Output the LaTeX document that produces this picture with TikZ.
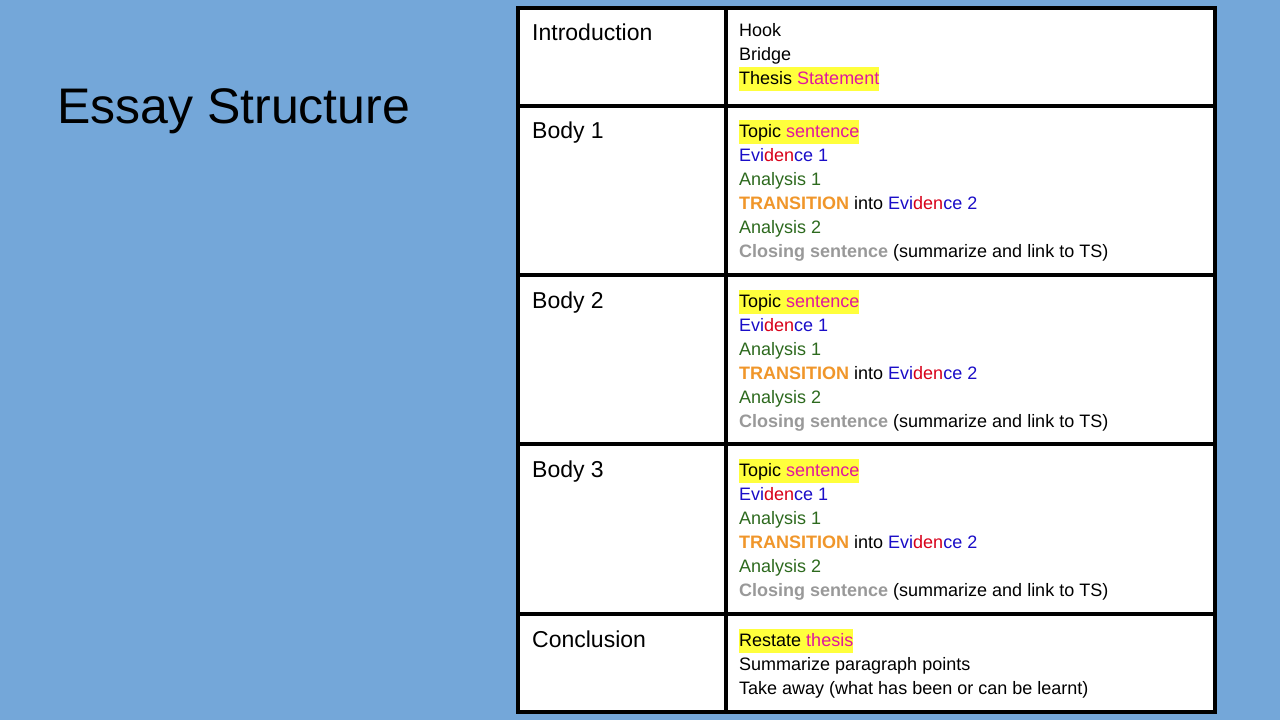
\documentclass[tikz,border=0pt]{standalone}
\usepackage{fontspec}
\setmainfont{Liberation Sans}
\definecolor{bg}{HTML}{74A7D9}
\definecolor{ev}{HTML}{1A0DC8}
\definecolor{er}{HTML}{D8001A}
\definecolor{an}{HTML}{2D6A1E}
\definecolor{tr}{HTML}{F0962A}
\definecolor{cl}{HTML}{999999}
\definecolor{mg}{HTML}{E0169E}
\definecolor{hy}{HTML}{FFFF3C}
\newcommand{\hlb}[1]{{\setlength\fboxsep{0pt}\colorbox{hy}{\strut#1}}}
\newcommand{\evid}[1]{\textcolor{ev}{Evi}\textcolor{er}{den}\textcolor{ev}{ce #1}}
\newcommand{\bodytext}{\hlb{Topic \textcolor{mg}{sentence}}\\
\evid{1}\\
\textcolor{an}{Analysis 1}\\
\textcolor{tr}{\bfseries TRANSITION} into \evid{2}\\
\textcolor{an}{Analysis 2}\\
\textcolor{cl}{\bfseries Closing sentence} (summarize and link to TS)}
\tikzset{
  cell/.style={anchor=north west,inner sep=0pt,align=left,font=\fontsize{18}{24}\selectfont},
  lab/.style={anchor=north west,inner sep=0pt,font=\fontsize{23}{28}\selectfont},
  grid/.style={line width=4pt}
}
\begin{document}
\begin{tikzpicture}[x=1pt,y=-1pt]
\fill[bg] (0,0) rectangle (1280,720);
\useasboundingbox (0,0) rectangle (1280,720);
\fill[white] (518,8) rectangle (1215,712);
\node[anchor=base west,inner sep=0pt,font=\fontsize{50}{60}\selectfont] (title) at (57,123) {Essay Structure};
\draw[grid] (518,8) rectangle (1215,712);
\draw[grid] (726,8) -- (726,712);
\foreach \y in {106,275,444,614} \draw[grid] (518,\y) -- (1215,\y);
\node[lab] (l1) at (532,24) {Introduction};
\node[lab] (l2) at (532,122) {Body 1};
\node[lab] (l3) at (532,292) {Body 2};
\node[lab] (l4) at (532,461) {Body 3};
\node[lab] (l5) at (532,631) {Conclusion};
\node[cell] (c1) at (739,23) {Hook\\Bridge\\\hlb{Thesis \textcolor{mg}{Statement}}};
\node[cell] (c2) at (739,120) {\bodytext};
\node[cell] (c3) at (739,290) {\bodytext};
\node[cell] (c4) at (739,459) {\bodytext};
\node[cell] (c5) at (739,629) {\hlb{Restate \textcolor{mg}{thesis}}\\Summarize paragraph points\\Take away (what has been or can be learnt)};
\end{tikzpicture}
\end{document}
